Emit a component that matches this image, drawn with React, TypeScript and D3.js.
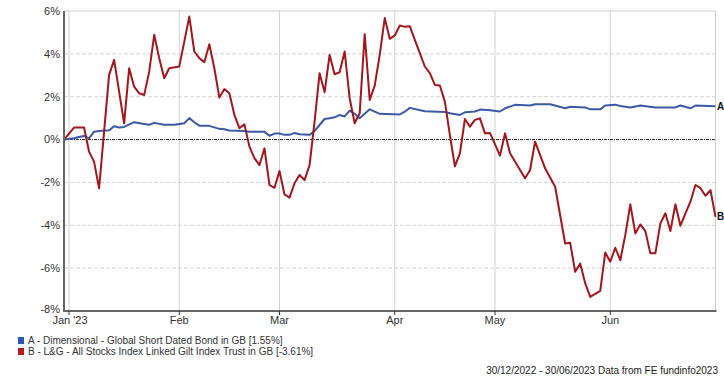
import React from "react";
import * as d3 from "d3";

// trading-day index (weekdays since 30/12/2022) and % growth
const daysB = [0,2,4,5,6,7,8,9,10,12,13,14,15,16,17,18,19,20,21,23,24,25,26,27,28,29,30,31,32,33,34,35,36,37,38,39,40,41,42,43,44,45,46,47,48,49,50,51,52,53,54,55,56,57,58,59,60,61,62,63,64,65,66,67,68,69,70,71,72,73,74,75,76,77,78,79,80,81,82,83,84,85,87,88,89,92,93,94,96,98,100,101,102,103,104,105,107,108,109,110,111,112,113,114,115,116,117,118,119,120,121,122,123,124,125,126,127,128,129,130];
const valuesB = [0,0.56,0.56,-0.56,-1.03,-2.28,0.37,3.02,3.72,0.76,3.33,2.47,2.16,2.08,3.17,4.89,3.8,2.86,3.33,3.41,4.57,5.74,4.11,3.8,3.61,4.45,3.33,1.96,2.36,2.16,1.15,0.53,0.71,-0.33,-0.87,-1.19,-0.41,-2.12,-2.25,-1.47,-2.56,-2.71,-2.04,-1.65,-1.89,-1.19,0.84,3.1,2.21,3.95,3.05,3.14,4.11,1.93,0.76,1.23,4.92,1.85,2.52,3.95,5.67,4.7,4.86,5.32,5.26,5.29,4.65,4.03,3.41,3.1,2.55,2.52,1.77,0.21,-1.25,-0.64,0.96,0.6,0.92,0.99,0.29,0.31,-0.75,0.29,-0.64,-1.81,-1.42,-0.1,-1.34,-2.2,-4.85,-4.82,-6.17,-5.78,-6.7,-7.34,-7.06,-5.27,-5.7,-5.05,-5.63,-4.46,-3.02,-4.38,-3.96,-4.27,-5.31,-5.31,-3.91,-3.44,-4.27,-3.02,-4.02,-3.44,-2.9,-2.12,-2.27,-2.62,-2.36,-3.61];

const daysA = [0,2,3,4,5,6,7,9,10,11,12,14,16,17,18,20,22,24,25,26,27,29,31,32,33,36,37,40,41,42,43,44,45,46,47,49,50,51,52,53,54,55,56,57,58,59,61,63,67,68,69,72,76,77,79,80,82,83,85,87,88,90,93,94,97,100,101,104,105,107,108,110,111,113,115,118,122,123,125,126,130];
const valuesA = [0,0.06,0.12,0.17,0.06,0.37,0.4,0.43,0.62,0.56,0.59,0.81,0.73,0.69,0.78,0.69,0.69,0.76,1.0,0.81,0.65,0.64,0.5,0.48,0.42,0.4,0.37,0.36,0.18,0.28,0.28,0.22,0.22,0.31,0.25,0.22,0.4,0.68,0.96,1.0,1.04,1.15,1.08,1.35,1.2,1.0,1.41,1.2,1.17,1.3,1.48,1.32,1.29,1.23,1.15,1.27,1.31,1.4,1.37,1.31,1.46,1.62,1.59,1.65,1.65,1.46,1.53,1.5,1.41,1.41,1.59,1.63,1.57,1.5,1.59,1.5,1.5,1.59,1.46,1.59,1.55];

const tickDays = [1, 23, 43, 66, 86, 109];
const tickLabels = ["Jan '23", "Feb", "Mar", "Apr", "May", "Jun"];
const yTicks = [6, 4, 2, 0, -2, -4, -6, -8];

const legendLabels = [
  "A - Dimensional - Global Short Dated Bond in GB [1.55%]",
  "B - L&G - All Stocks Index Linked Gilt Index Trust in GB [-3.61%]",
];
const footer = "30/12/2022 - 30/06/2023 Data from FE fundinfo2023";

const RED = "#a3161c";
const BLUE = "#3a5aa6";

export default function App() {
  const W = 724, H = 376;
  const left = 64, right = 715.5, top = 11, bottom = 311;
  const x = d3.scaleLinear().domain([0, 130]).range([left, right]);
  const y = d3.scaleLinear().domain([-8, 6]).range([bottom, top]);
  const line = d3.line<[number, number]>().x(d => x(d[0])).y(d => y(d[1]));
  const ptsA = daysA.map((d, i) => [d, valuesA[i]] as [number, number]);
  const ptsB = daysB.map((d, i) => [d, valuesB[i]] as [number, number]);
  const font = "'Liberation Sans', Arial, sans-serif";
  const lastA = valuesA[valuesA.length - 1];
  const lastB = valuesB[valuesB.length - 1];

  return (
    <svg width={W} height={H} style={{ position: "absolute", left: 0, top: 0, background: "#fff" }} fontFamily={font}>
      <rect x={0} y={0} width={W} height={H} fill="#fff" />
      {yTicks.filter(t => t !== 0 && t !== -8 && t !== 6).map(t => (
        <line key={t} x1={left} x2={right} y1={y(t)} y2={y(t)} stroke="#d4d4d4" strokeDasharray="4,2" strokeWidth={1} />
      ))}
      {tickDays.map(d => (
        <line key={d} x1={x(d)} x2={x(d)} y1={top} y2={bottom} stroke="#d2d2d2" strokeWidth={1} />
      ))}
      <line x1={left} x2={right} y1={top} y2={top} stroke="#d0d0d0" strokeWidth={1} />
      <line x1={right} x2={right} y1={top} y2={bottom} stroke="#d0d0d0" strokeWidth={1} />
      <line x1={left} x2={right} y1={y(0)} y2={y(0)} stroke="#222" strokeWidth={1} strokeDasharray="3,1,1,1" />
      <path d={line(ptsA) || ""} fill="none" stroke={BLUE} strokeWidth={2} strokeLinejoin="round" />
      <path d={line(ptsB) || ""} fill="none" stroke={RED} strokeWidth={2} strokeLinejoin="round" />
      <line x1={left} x2={left} y1={top} y2={bottom + 1} stroke="#666" strokeWidth={2} />
      <line x1={left - 1} x2={right + 1} y1={bottom} y2={bottom} stroke="#666" strokeWidth={2} />
      {tickDays.map(d => (
        <line key={"t" + d} x1={x(d)} x2={x(d)} y1={bottom} y2={bottom + 4} stroke="#333" strokeWidth={1} />
      ))}
      {yTicks.map(t => (
        <text key={"y" + t} x={60} y={t === -8 ? y(t) - 2 : y(t)} dy="0.35em" textAnchor="end" fontSize={11} fill="#333">{t}%</text>
      ))}
      {tickDays.map((d, i) => (
        <text key={"x" + d} x={i === 0 ? x(d) + 1 : x(d)} y={324} textAnchor="middle" fontSize={11} fill="#333">{tickLabels[i]}</text>
      ))}
      <text x={717} y={y(lastA)} dy="0.35em" fontSize={10} fontWeight="bold" fill="#111">A</text>
      <text x={717} y={y(lastB)} dy="0.35em" fontSize={10} fontWeight="bold" fill="#111">B</text>
      <rect x={18} y={337} width={6} height={7} fill="#2d56ad" />
      <text x={28} y={344} fontSize={10} fill="#333">{legendLabels[0]}</text>
      <rect x={18} y={348} width={6} height={7} fill="#b41c1c" />
      <text x={28} y={355} fontSize={10} fill="#333">{legendLabels[1]}</text>
      <text x={718} y={374} textAnchor="end" fontSize={10} fill="#222">{footer}</text>
    </svg>
  );
}
